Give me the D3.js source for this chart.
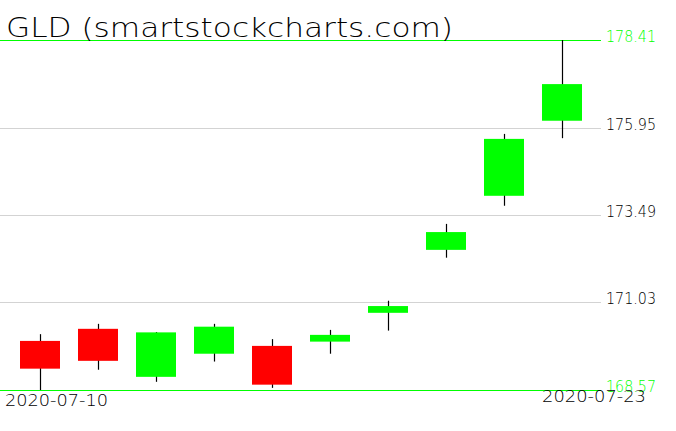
<!DOCTYPE html>
<html><head><meta charset="utf-8">
<script src="https://cdn.jsdelivr.net/npm/d3@7"></script>
<style>body{margin:0;background:#fff}svg{display:block}</style>
</head><body>
<script>
const dates = ["2020-07-10","2020-07-13","2020-07-14","2020-07-15","2020-07-16","2020-07-17","2020-07-20","2020-07-21","2020-07-22","2020-07-23"];
const opens  = [169.95,170.29,168.94,169.59,169.81,169.93,170.74,172.51,174.03,176.14];
const highs  = [170.14,170.43,170.20,170.43,170.00,170.26,171.08,173.24,175.77,178.41];
const lows   = [168.57,169.14,168.80,169.37,168.63,169.59,170.24,172.29,173.75,175.65];
const closes = [169.17,169.39,170.19,170.35,168.72,170.12,170.93,173.01,175.63,177.17];
const priceTicks = [168.57,171.03,173.49,175.95,178.41];
const title = "GLD (smartstockcharts.com)";

const W = 676, H = 431;
const svg = d3.select("body").append("svg").attr("width", W).attr("height", H);

const x = d3.scaleBand().domain(dates).range([11, 591]).paddingInner(0.31).paddingOuter(0.155);
const y = d3.scaleLinear().domain([d3.min(lows), d3.max(highs)]).range([390, 40]);
const lineEnd = 601;

// grid lines
svg.append("g").selectAll("line").data(priceTicks).join("line")
  .attr("x1", 0).attr("x2", lineEnd)
  .attr("y1", d => Math.round(y(d)) + 0.5).attr("y2", d => Math.round(y(d)) + 0.5)
  .attr("stroke", (d, i) => (i === 0 || i === priceTicks.length - 1) ? "#00ff00" : "#d3d3d3")
  .attr("stroke-width", 1);

// price labels
svg.append("g").selectAll("text").data(priceTicks).join("text")
  .attr("x", 606).attr("y", d => Math.round(y(d)) + 1.5)
  .attr("font-family", "DejaVu Sans").attr("font-size", 15).attr("font-weight", 200)
  .attr("textLength", 50).attr("lengthAdjust", "spacingAndGlyphs")
  .attr("fill", (d, i) => (i === 0 || i === priceTicks.length - 1) ? "#00ff00" : "#000")
  .text(d => d.toFixed(2));

const data = dates.map((d, i) => ({date: d, o: opens[i], h: highs[i], l: lows[i], c: closes[i]}));
const cx = d => Math.round(x(d.date) + x.bandwidth() / 2) + 0.5;

const g = svg.append("g");
g.selectAll("line.wick").data(data).join("line").attr("class", "wick")
  .attr("x1", cx).attr("x2", cx)
  .attr("y1", d => y(d.h)).attr("y2", d => y(d.l))
  .attr("stroke", "#000").attr("stroke-width", 1.2);
g.selectAll("rect").data(data).join("rect")
  .attr("x", d => Math.round(x(d.date)))
  .attr("width", Math.round(x.bandwidth()))
  .attr("y", d => y(Math.max(d.o, d.c)))
  .attr("height", d => Math.max(1, Math.abs(y(d.o) - y(d.c))))
  .attr("fill", d => d.c >= d.o ? "#00ff00" : "#ff0000");

// title
svg.append("text").attr("x", 6).attr("y", 37)
  .attr("font-family", "DejaVu Sans").attr("font-size", 27).attr("font-weight", 200)
  .attr("textLength", 447).attr("lengthAdjust", "spacingAndGlyphs")
  .attr("fill", "#000").text(title);

// date labels
svg.append("text").attr("x", 5).attr("y", 406)
  .attr("font-family", "DejaVu Sans").attr("font-size", 15).attr("font-weight", 200)
  .attr("textLength", 103).attr("lengthAdjust", "spacingAndGlyphs")
  .text(dates[0]);
svg.append("text").attr("x", 542).attr("y", 402)
  .attr("font-family", "DejaVu Sans").attr("font-size", 15).attr("font-weight", 200)
  .attr("textLength", 104).attr("lengthAdjust", "spacingAndGlyphs")
  .text(dates[dates.length - 1]);
</script>
</body></html>
